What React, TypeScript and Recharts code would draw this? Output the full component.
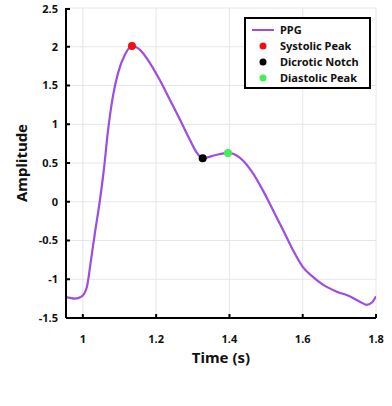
import React from 'react';
import {
  ComposedChart,
  Line,
  Scatter,
  XAxis,
  YAxis,
  CartesianGrid,
  Legend,
  Label,
} from 'recharts';

// PPG waveform (time in s, amplitude)
const times = [
  0.954, 0.965, 0.978, 0.997, 1.011, 1.022, 1.033, 1.046, 1.057, 1.069,
  1.082, 1.096, 1.115, 1.134, 1.156, 1.183, 1.21, 1.237, 1.265, 1.292,
  1.31, 1.327, 1.36, 1.396, 1.428, 1.464, 1.491, 1.518, 1.546, 1.573,
  1.6, 1.628, 1.655, 1.693, 1.728, 1.756, 1.774, 1.789, 1.8,
];
const amplitude = [
  -1.23, -1.24, -1.25, -1.22, -1.1, -0.76, -0.4, 0.0, 0.4, 0.93,
  1.36, 1.66, 1.9, 2.01, 1.96, 1.79, 1.57, 1.32, 1.06, 0.8,
  0.64, 0.56, 0.6, 0.63, 0.57, 0.37, 0.15, -0.1, -0.36, -0.62,
  -0.84, -0.97, -1.07, -1.16, -1.22, -1.29, -1.33, -1.3, -1.22,
];

const systolicPeak = [{ t: 1.134, v: 2.01 }];
const dicroticNotch = [{ t: 1.327, v: 0.56 }];
const diastolicPeak = [{ t: 1.396, v: 0.63 }];

const xTicks = [1, 1.2, 1.4, 1.6, 1.8];
const yTicks = [-1.5, -1, -0.5, 0, 0.5, 1, 1.5, 2, 2.5];

const legendItems = [
  { name: 'PPG', color: '#9d4ddf', kind: 'line' },
  { name: 'Systolic Peak', color: '#ee1111', kind: 'dot' },
  { name: 'Dicrotic Notch', color: '#000000', kind: 'dot' },
  { name: 'Diastolic Peak', color: '#44ee55', kind: 'dot' },
];

const FONT = '"Noto Sans", sans-serif';
const ppgData = times.map((t, i) => ({ t, v: amplitude[i] }));

const YTick = (props: any) => {
  const { x, y, payload } = props;
  return (
    <g>
      <line x1={x + 8} x2={x + 12} y1={y} y2={y} stroke="#000" strokeWidth={2} />
      <text x={x} y={y} dy="0.355em" textAnchor="end" fontFamily={FONT} fontWeight={700} fontSize={11} fill="#111">
        {payload.value}
      </text>
    </g>
  );
};

const XTick = (props: any) => {
  const { x, y, payload } = props;
  return (
    <g>
      <line x1={x} x2={x} y1={y - 17} y2={y - 21} stroke="#000" strokeWidth={2} />
      <text x={x} y={y} dy="0.71em" textAnchor="middle" fontFamily={FONT} fontWeight={700} fontSize={11} fill="#111">
        {payload.value}
      </text>
    </g>
  );
};

const dotShape = (color: string) => (p: any) => <circle cx={p.cx} cy={p.cy} r={4} fill={color} />;

const LegendBox = () => (
  <div
    style={{
      border: '2px solid #000',
      background: '#fff',
      padding: '3px 6px',
      fontFamily: FONT,
      fontWeight: 700,
      fontSize: 11,
      lineHeight: '16px',
      boxSizing: 'border-box',
      width: 127,
      height: 72,
      color: '#111',
    }}
  >
    {legendItems.map(item => (
      <div key={item.name} style={{ display: 'flex', alignItems: 'center' }}>
        <svg width={28} height={16}>
          {item.kind === 'line' ? (
            <line x1={0} x2={22} y1={8} y2={8} stroke={item.color} strokeWidth={2} />
          ) : (
            <circle cx={11} cy={8} r={3.5} fill={item.color} />
          )}
        </svg>
        <span>{item.name}</span>
      </div>
    ))}
  </div>
);

export default function App() {
  return (
    <div style={{ position: 'absolute', left: 0, top: 0, background: '#fff' }}>
      <ComposedChart width={392} height={406} margin={{ top: 8, right: 16, left: 0, bottom: 0 }}>
        <CartesianGrid stroke="#e6e6e6" strokeWidth={1} />
        <XAxis
          type="number"
          dataKey="t"
          domain={[0.954, 1.8]}
          ticks={xTicks}
          allowDataOverflow
          height={88}
          tickSize={0}
          tickMargin={17}
          tick={<XTick />}
          axisLine={{ stroke: '#000', strokeWidth: 2 }}
        >
          <Label
            content={(p: any) => (
              <text
                x={p.viewBox.x + p.viewBox.width / 2}
                y={p.viewBox.y + 45}
                textAnchor="middle"
                fontFamily={FONT}
                fontWeight={700}
                fontSize={15}
                fill="#111"
              >
                Time (s)
              </text>
            )}
          />
        </XAxis>
        <YAxis
          type="number"
          dataKey="v"
          domain={[-1.5, 2.5]}
          ticks={yTicks}
          width={66}
          tickSize={0}
          tickMargin={8}
          tick={<YTick />}
          axisLine={{ stroke: '#000', strokeWidth: 2 }}
        >
          <Label
            content={(p: any) => {
              const cx = 27;
              const cy = p.viewBox.y + p.viewBox.height / 2;
              return (
                <text
                  x={cx}
                  y={cy}
                  transform={`rotate(-90 ${cx} ${cy})`}
                  textAnchor="middle"
                  fontFamily={FONT}
                  fontWeight={700}
                  fontSize={15}
                  fill="#111"
                >
                  Amplitude
                </text>
              );
            }}
          />
        </YAxis>
        <Line
          data={ppgData}
          dataKey="v"
          type="monotone"
          stroke="#9d4ddf"
          strokeWidth={2.2}
          dot={false}
          isAnimationActive={false}
        />
        <Scatter data={systolicPeak} dataKey="v" shape={dotShape('#ee1111')} isAnimationActive={false} />
        <Scatter data={dicroticNotch} dataKey="v" shape={dotShape('#000000')} isAnimationActive={false} />
        <Scatter data={diastolicPeak} dataKey="v" shape={dotShape('#44ee55')} isAnimationActive={false} />
        <Legend
          layout="vertical"
          align="center"
          verticalAlign="middle"
          content={<LegendBox />}
          wrapperStyle={{ left: 244, top: 17, width: 127, height: 72 }}
        />
      </ComposedChart>
    </div>
  );
}
